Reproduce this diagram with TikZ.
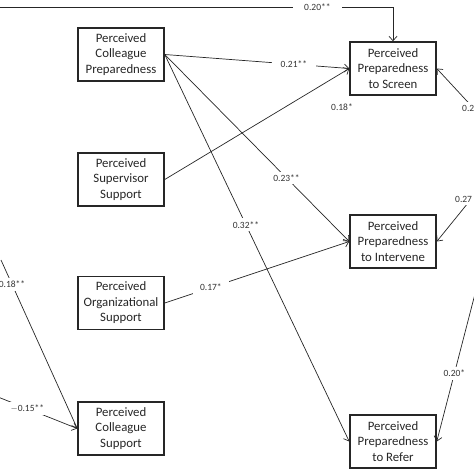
\documentclass[tikz,border=0pt]{standalone}
\usepackage{fontspec}
\setmainfont{Carlito}
\usetikzlibrary{arrows.meta}
\begin{document}
\begin{tikzpicture}[x=1pt,y=-1pt,
 box/.style={draw=black!85, line width=1.5pt, minimum width=86pt, minimum height=53pt, align=center, inner sep=1pt, font=\fontsize{12.8}{15.5}\selectfont, text=black!85},
 conn/.style={draw=black!85, line width=0.7pt, -{Straight Barb[length=4.5pt,width=8pt]}},
 lab/.style={font=\fontsize{9.5}{11}\selectfont, text=black!80, fill=white, inner xsep=3pt, inner ysep=3pt}
]
\useasboundingbox (0,0) rectangle (474,474);
\clip (0,0) rectangle (474,474);
% boxes
\node[box] (cp) at (121,54.5) {Perceived\\Colleague\\Preparedness};
\node[box] (ss) at (121,179.5) {Perceived\\Supervisor\\Support};
\node[box] (os) at (121,303) {Perceived\\Organizational\\Support};
\node[box] (cs) at (121,428.5) {Perceived\\Colleague\\Support};
\node[box] (sc) at (393,68.5) {Perceived\\Preparedness\\to Screen};
\node[box] (iv) at (393,241.5) {Perceived\\Preparedness\\to Intervene};
\node[box] (rf) at (393,441.5) {Perceived\\Preparedness\\to Refer};
% free ends
\coordinate (tl) at (-5,7);
\coordinate (l1) at (1,260);
\coordinate (l2) at (-2,397);
\coordinate (r1) at (490,126);
\coordinate (r2) at (485,182);
\coordinate (r3) at (476,290);
% connectors
\draw[conn] (tl) -| node[lab, pos=0.405, inner xsep=11pt] (t20) {0.20**} (sc.north);
\draw[conn] (cp.east) -- node[lab, pos=0.7, inner xsep=9pt] (t21) {0.21**} (sc.west);
\draw[conn] (ss.east) -- (sc.west);
\node[lab, fill=none] (t18) at (342,107) {0.18*};
\draw[conn] (cp.east) -- node[lab, pos=0.66] (t23) {0.23**} (iv.west);
\draw[conn] (cp.east) -- node[lab, pos=0.44] (t32) {0.32**} (rf.west);
\draw[conn] (os.east) -- node[lab, pos=0.25, inner xsep=7pt] (t17) {0.17*} (iv.west);
\draw[conn] (l1) -- node[lab, pos=0.145] (t18b) {0.18**} (cs.west);
\draw[conn] (l2) -- node[lab, pos=0.37] (t15) {$-$0.15**} (cs.west);
\draw[conn] (r1) -- (sc.east);
\node[lab, anchor=west, inner xsep=2pt] (t2a) at (460,108) {0.2};
\draw[conn] (r2) -- (iv.east);
\node[lab, anchor=west, inner xsep=2pt] (t27) at (453,199) {0.27};
\draw[conn] (r3) -- node[lab, pos=0.55] (t20b) {0.20*} (rf.east);
\end{tikzpicture}
\end{document}
